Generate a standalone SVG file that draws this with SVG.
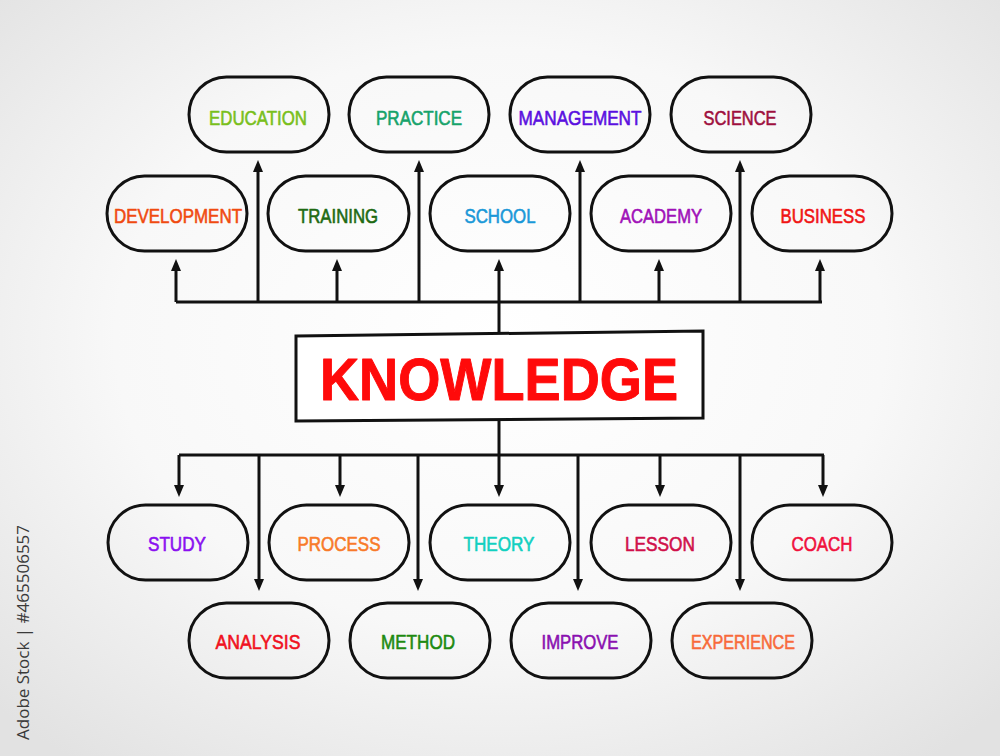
<svg xmlns="http://www.w3.org/2000/svg" width="1000" height="756" viewBox="0 0 1000 756">
<defs>
<radialGradient id="bg" cx="50%" cy="45%" r="70%">
<stop offset="0" stop-color="#ffffff"/>
<stop offset="0.55" stop-color="#f8f8f8"/>
<stop offset="1" stop-color="#e2e2e2"/>
</radialGradient>
<marker id="ah" viewBox="0 0 12 10" refX="5" refY="5" markerWidth="12" markerHeight="10" markerUnits="userSpaceOnUse" orient="auto">
<path d="M0,0 L12,5 L0,10 z" fill="#111"/>
</marker>
</defs>
<style>
.pill{fill:none;stroke:#111;stroke-width:3}
.lbl{font-family:"Liberation Sans",Arial,sans-serif;font-size:20px;text-anchor:middle;stroke-width:0.6px;stroke-linejoin:round}
.ln{fill:none;stroke:#111;stroke-width:3}
.arr{fill:none;stroke:#111;stroke-width:3;marker-end:url(#ah)}
</style>
<rect x="0" y="0" width="1000" height="756" fill="url(#bg)"/>

<g id="connectors">
<path class="ln" d="M176,302 H822"/>
<path class="ln" d="M499,333 V302"/>
<path class="arr" d="M176,302 V266"/>
<path class="arr" d="M337,302 V266"/>
<path class="arr" d="M499,302 V266"/>
<path class="arr" d="M659,302 V266"/>
<path class="arr" d="M820,302 V266"/>
<path class="arr" d="M258,302 V167"/>
<path class="arr" d="M419,302 V167"/>
<path class="arr" d="M580,302 V167"/>
<path class="arr" d="M740,302 V167"/>
<path class="ln" d="M499,420 V455"/>
<path class="ln" d="M179,455 H824"/>
<path class="arr" d="M179,455 V490"/>
<path class="arr" d="M340,455 V490"/>
<path class="arr" d="M499,455 V490"/>
<path class="arr" d="M660,455 V490"/>
<path class="arr" d="M823,455 V490"/>
<path class="arr" d="M259,455 V584"/>
<path class="arr" d="M418,455 V584"/>
<path class="arr" d="M578,455 V584"/>
<path class="arr" d="M740,455 V584"/>
</g>

<g id="knowledge">
<polygon points="296,336 703,331 703,418 296,421" fill="#ffffff" stroke="#111" stroke-width="3"/>
<text x="499" y="400" font-family="'Liberation Sans',Arial,sans-serif" font-weight="bold" font-size="60" fill="#ff0a0a" stroke="#ff0a0a" stroke-width="1" stroke-linejoin="round" text-anchor="middle" textLength="358" lengthAdjust="spacingAndGlyphs">KNOWLEDGE</text>
</g>

<g id="education"><rect class="pill" x="189" y="77" width="140" height="75" rx="37.5"/><text class="lbl" x="258" y="125" fill="#79bf1c" stroke="#79bf1c" textLength="98" lengthAdjust="spacingAndGlyphs">EDUCATION</text></g>
<g id="practice"><rect class="pill" x="349" y="77" width="140" height="75" rx="37.5"/><text class="lbl" x="419" y="125" fill="#16a36b" stroke="#16a36b" textLength="86" lengthAdjust="spacingAndGlyphs">PRACTICE</text></g>
<g id="management"><rect class="pill" x="510" y="77" width="140" height="75" rx="37.5"/><text class="lbl" x="580" y="125" fill="#5a0fe0" stroke="#5a0fe0" textLength="123" lengthAdjust="spacingAndGlyphs">MANAGEMENT</text></g>
<g id="science"><rect class="pill" x="671" y="77" width="140" height="75" rx="37.5"/><text class="lbl" x="740" y="125" fill="#9e0f3e" stroke="#9e0f3e" textLength="73" lengthAdjust="spacingAndGlyphs">SCIENCE</text></g>

<g id="development"><rect class="pill" x="107" y="176" width="140" height="75" rx="37.5"/><text class="lbl" x="178" y="223" fill="#f04a10" stroke="#f04a10" textLength="128" lengthAdjust="spacingAndGlyphs">DEVELOPMENT</text></g>
<g id="training"><rect class="pill" x="268" y="176" width="141" height="75" rx="37.5"/><text class="lbl" x="338" y="223" fill="#1e6a12" stroke="#1e6a12" textLength="80" lengthAdjust="spacingAndGlyphs">TRAINING</text></g>
<g id="school"><rect class="pill" x="430" y="176" width="140" height="75" rx="37.5"/><text class="lbl" x="500" y="223" fill="#1a98d8" stroke="#1a98d8" textLength="71" lengthAdjust="spacingAndGlyphs">SCHOOL</text></g>
<g id="academy"><rect class="pill" x="591" y="176" width="140" height="75" rx="37.5"/><text class="lbl" x="661" y="223" fill="#a010b8" stroke="#a010b8" textLength="82" lengthAdjust="spacingAndGlyphs">ACADEMY</text></g>
<g id="business"><rect class="pill" x="752" y="176" width="140" height="75" rx="37.5"/><text class="lbl" x="823" y="223" fill="#f01414" stroke="#f01414" textLength="85" lengthAdjust="spacingAndGlyphs">BUSINESS</text></g>

<g id="study"><rect class="pill" x="108" y="505" width="140" height="75" rx="37.5"/><text class="lbl" x="177" y="551" fill="#8a10f0" stroke="#8a10f0" textLength="58" lengthAdjust="spacingAndGlyphs">STUDY</text></g>
<g id="process"><rect class="pill" x="269" y="505" width="140" height="75" rx="37.5"/><text class="lbl" x="339" y="551" fill="#f87a2a" stroke="#f87a2a" textLength="83" lengthAdjust="spacingAndGlyphs">PROCESS</text></g>
<g id="theory"><rect class="pill" x="430" y="505" width="140" height="75" rx="37.5"/><text class="lbl" x="499" y="551" fill="#12d0c0" stroke="#12d0c0" textLength="71" lengthAdjust="spacingAndGlyphs">THEORY</text></g>
<g id="lesson"><rect class="pill" x="591" y="505" width="140" height="75" rx="37.5"/><text class="lbl" x="660" y="551" fill="#d0104a" stroke="#d0104a" textLength="70" lengthAdjust="spacingAndGlyphs">LESSON</text></g>
<g id="coach"><rect class="pill" x="752" y="505" width="140" height="75" rx="37.5"/><text class="lbl" x="822" y="551" fill="#f0103c" stroke="#f0103c" textLength="61" lengthAdjust="spacingAndGlyphs">COACH</text></g>

<g id="analysis"><rect class="pill" x="189" y="603" width="140" height="75" rx="37.5"/><text class="lbl" x="258" y="649" fill="#f01020" stroke="#f01020" textLength="85" lengthAdjust="spacingAndGlyphs">ANALYSIS</text></g>
<g id="method"><rect class="pill" x="350" y="603" width="140" height="75" rx="37.5"/><text class="lbl" x="418" y="649" fill="#1e8a10" stroke="#1e8a10" textLength="74" lengthAdjust="spacingAndGlyphs">METHOD</text></g>
<g id="improve"><rect class="pill" x="511" y="603" width="140" height="75" rx="37.5"/><text class="lbl" x="580" y="649" fill="#8a10b0" stroke="#8a10b0" textLength="77" lengthAdjust="spacingAndGlyphs">IMPROVE</text></g>
<g id="experience"><rect class="pill" x="672" y="603" width="140" height="75" rx="37.5"/><text class="lbl" x="743" y="649" fill="#f86a3a" stroke="#f86a3a" textLength="104" lengthAdjust="spacingAndGlyphs">EXPERIENCE</text></g>

<text transform="translate(29,740) rotate(-90)" font-family="'Open Sans','Liberation Sans',sans-serif" font-size="17" fill="#3a3a3a">Adobe Stock | #465506557</text>
</svg>
